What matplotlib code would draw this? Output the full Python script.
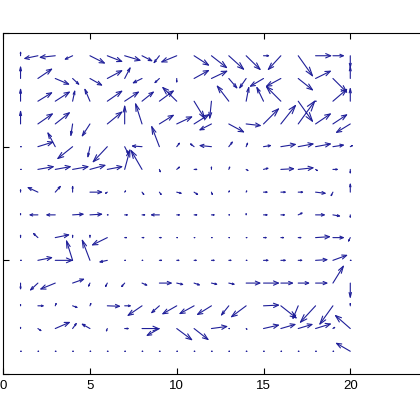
import matplotlib
matplotlib.use("Agg")
import matplotlib.pyplot as plt
import numpy as np

# grid of the vector field
x_pts = np.arange(1, 21)
y_pts = np.arange(1, 15)

# u, v components, rows from y=14 (top) down to y=1
u_rows = [
    [0, -0.75, -0.86, -0.42, 0.83, 0.83, 0.88, 0.56, -0.3, -0.86, 0.83, 0.87, 0.85, 0.8, 0.29, -0.72, 0.82, 0.87, 0.6, 0],
    [0, 0.79, 0.77, 0.35, 0.67, 0.83, 0.31, -0.5, -0.25, 0, 0.83, 0.88, 0.46, -0.37, -0.75, -0.82, 0.82, 0.85, 0.79, 0],
    [0, 0.79, 0.81, 0.12, -0.29, 0.83, 0.79, 0.65, 0.8, -0.8, 0.6, -0.1, -0.66, 0.15, -0.38, -0.82, 0.82, 0.03, 0.79, 0],
    [0, 0.83, 0.81, -0.1, -0.44, 0.83, 0, -0.37, 0.8, 0.86, 0.83, -0.66, 0.85, 0.81, 0.86, 0.84, 0.95, 0.85, 0.79, -0.79],
    [0.04, 0.85, -0.42, -0.85, -0.12, -0.81, 0.2, -0.55, -0.44, 0.15, -0.2, -0.65, 0.2, 0.08, 0.4, 0.83, 0.85, 0.85, 0.6, 0.12],
    [0.04, 0.88, 0.86, 0.88, 0.86, 0.83, 0.3, -0.62, 0.05, 0.15, 0.15, 0, 0.05, 0.1, 0.25, 0.73, 0.85, 0.1, 0.25, 0],
    [0, -0.56, 0.29, 0, 0.67, -0.1, 0.05, 0.1, 0.1, 0.25, 0.2, 0.05, 0.03, 0.03, 0.2, 0.25, 0.25, 0.55, -0.1, 0],
    [0, -0.45, -0.48, 0.6, 0.67, 0.04, 0.15, 0.15, -0.45, 0.15, 0.15, 0.15, 0.04, 0, 0.2, 0.2, 0.22, 0.5, 0.38, 0],
    [0, -0.25, 0.77, 0, 0, -0.85, 0.1, 0.1, 0.1, 0.04, 0.04, 0.04, 0.04, 0.04, 0.15, 0.15, 0.15, 0.8, 0.6, -0.1],
    [0.04, 0.79, 0.96, -0.35, -0.44, -0.42, 0.04, 0.04, 0.12, 0.12, 0.12, 0.15, 0.12, 0.04, 0.25, 0.25, 0.2, 0.65, 0.79, 0.04],
    [0, -0.42, -0.83, 0.63, -0.08, -0.1, -0.17, 0.27, 0.68, 0.34, 0.3, 0.3, 0.3, 0.79, 0.86, 0.67, 0.6, 0.65, 0.6, 0],
    [0, 0.3, 0.05, 0.25, 0.05, 0.7, 0.32, -0.8, -0.44, -0.8, -0.81, -0.8, -0.42, -0.84, 0.86, 0.88, -0.3, -0.87, -0.75, 0],
    [0, 0.17, 0.81, 0.21, -0.44, -0.05, 0.2, 0.94, -0.7, 0.86, 0.8, 0.88, 0.04, 0.04, 0.86, 0.81, 0.79, 0.85, 0.1, -0.85],
    [0.04, 0.04, 0.04, 0.04, 0.04, 0.04, 0.04, 0.04, 0.04, 0.04, 0.04, 0.04, 0.04, 0.04, 0.04, 0.04, 0.04, 0.04, 0.04, -0.79],
]
v_rows = [
    [0.15, -0.12, -0.07, -0.15, -0.32, -0.25, -0.2, -0.22, -0.3, -0.27, -0.41, -0.52, -0.59, -0.6, 0, -0.6, -0.88, 0, 0, -0.5],
    [0.5, 0.41, -0.25, -0.25, -0.29, 0.34, 0.46, -0.19, -0.18, -0.15, 0.35, 0.32, -0.41, -0.41, -0.34, -0.34, -0.5, 0.32, -0.6, 0.5],
    [0.52, 0.37, 0.4, 0.44, 0.52, 0.44, 0.4, 0.4, 0.45, 0.6, -0.75, -0.74, 0.66, 0.6, 0.6, 0.63, -0.88, 0, 0.52, 0.55],
    [0.55, 0.44, 0.49, -0.5, -0.52, 0.52, 0.78, 0.88, 0.38, 0.31, 0.4, -0.26, -0.35, -0.07, 0.66, 0.81, 1.0, 0.44, 0.4, -0.37],
    [0, 0.2, 0.6, -0.52, -0.44, -0.66, -0.3, 0.03, 0.88, 0.15, 0.12, 0.05, 0.2, 0.15, 0.05, 0.1, 0.12, 0.12, 0.07, 0.05],
    [0, 0.12, 0.12, 0.12, 0.18, 0.12, 0.85, 0.82, -0.1, 0.1, 0, 0.1, 0.1, -0.05, 0.05, 0.03, 0.07, -0.05, 0, -0.15],
    [0.1, 0.2, 0.25, 0.25, 0, -0.05, 0.05, -0.1, -0.1, -0.05, -0.1, -0.1, 0.05, 0.05, 0, 0, 0, -0.05, -0.15, 0.35],
    [0.05, 0, 0, 0.03, 0.03, 0, 0, 0, 0, 0, 0, 0, 0, 0.05, 0, 0, 0.08, 0, -0.05, -0.1],
    [0.1, 0.18, 0.12, 0.1, 0.1, -0.32, 0, 0, 0, 0, 0, 0, 0, 0, 0, 0, 0, 0.04, 0, -0.15],
    [0, 0.12, 0, 0.85, 0.88, -0.07, 0, 0, 0, 0, 0, 0, 0, 0, 0, 0, 0, 0.03, 0.22, 0],
    [-0.25, -0.3, -0.26, 0.17, -0.13, -0.15, -0.15, -0.09, 0, -0.06, -0.08, -0.05, -0.05, 0, 0, 0, 0, 0, 0.74, -0.62],
    [0.05, 0, 0.1, -0.07, 0.1, -0.02, 0, -0.42, -0.3, -0.35, -0.34, -0.38, -0.4, -0.48, 0.03, -0.53, -0.55, -0.72, -0.8, 0.1],
    [0.05, -0.09, 0.27, 0.22, 0.19, -0.1, 0, 0, -0.3, -0.49, -0.48, 0.09, 0, -0.03, 0.15, 0.18, 0.18, 0.2, 0.05, 0.57],
    [0, 0, 0, 0, 0, 0, 0, 0, 0, 0, 0, 0, 0, 0, 0, 0, 0, 0, 0, 0.35],
]
x_ticks = [0, 5, 10, 15, 20, 25]
x_ticklabels = ['0', '5', '10', '15', '20', '']
y_ticks = [0, 5, 10, 15]

X, Y = np.meshgrid(x_pts, y_pts[::-1])
U = np.array(u_rows, dtype=float)
V = np.array(v_rows, dtype=float)
x, y, u, v = X.ravel(), Y.ravel(), U.ravel(), V.ravel()

# matlab style open arrowheads
alpha, beta = 0.33, 0.33
nan = np.full_like(x, np.nan, dtype=float)
su = np.column_stack([x, x + u, nan]).ravel()
sv = np.column_stack([y, y + v, nan]).ravel()
hu = np.column_stack([x + u - alpha * (u + beta * v), x + u,
                      x + u - alpha * (u - beta * v), nan]).ravel()
hv = np.column_stack([y + v - alpha * (v - beta * u), y + v,
                      y + v - alpha * (v + beta * u), nan]).ravel()

fig = plt.figure(figsize=(4.2, 4.2), dpi=100)
ax = fig.add_axes([0.0076, 0.1095, 1.033, 0.8119])

col = '#1f1f99'
ax.plot(su, sv, color=col, lw=0.8, solid_capstyle='round')
ax.plot(hu, hv, color=col, lw=0.8, solid_capstyle='round')

ax.set_xlim(0, 25)
ax.set_ylim(0, 15)
ax.set_xticks(x_ticks)
ax.set_xticklabels(x_ticklabels)
ax.set_yticks(y_ticks)
ax.set_yticklabels([])  # y labels sit outside the picture
ax.tick_params(direction='in', length=4, width=0.8, top=True, right=True,
               labelsize=9.5, pad=4)
for lab in ax.get_xticklabels():
    lab.set_family('Liberation Sans')
for s in ax.spines.values():
    s.set_linewidth(0.8)

fig.savefig("out.png", dpi=100)
